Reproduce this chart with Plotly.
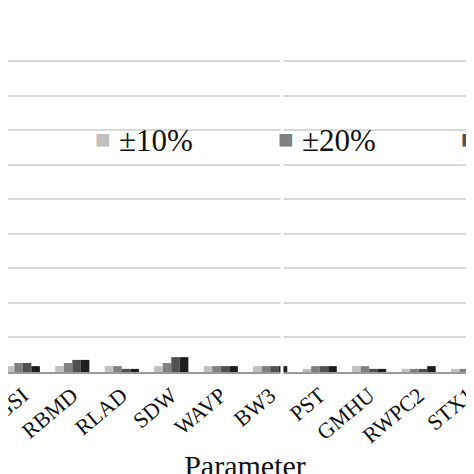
import plotly.graph_objects as go

params = ['GSI', 'RBMD', 'RLAD', 'SDW', 'WAVP', 'BW3', 'PST', 'GMHU', 'RWPC2', 'STX1']
s10 = [0.17, 0.17, 0.17, 0.17, 0.17, 0.17, 0.09, 0.17, 0.09, 0.09]
s20 = [0.26, 0.26, 0.17, 0.26, 0.17, 0.17, 0.17, 0.17, 0.09, 0.09]
s30 = [0.26, 0.35, 0.09, 0.43, 0.17, 0.17, 0.17, 0.09, 0.09, 0.09]
s40 = [0.17, 0.35, 0.09, 0.43, 0.17, 0.17, 0.17, 0.09, 0.17, 0.09]
names = ['±10%', '±20%', '±30%', '±40%']
colors = ['#c0c0c0', '#808080', '#505050', '#1e1e1e']

fig = go.Figure()
for name, vals, c in zip(names, [s10, s20, s30, s40], colors):
    fig.add_trace(go.Bar(x=params, y=vals, name=name, marker_color=c,
                         marker_line_width=0, showlegend=False))

# legend drawn as a row of annotations (only the first items fit in the crop)
annots = []
for i, (name, c) in enumerate(zip(names, colors)):
    x0 = 85 + i * 183
    annots.append(dict(xref='paper', yref='paper', x=x0 / 474, y=(364 - 131) / 342,
                       xanchor='left', yanchor='middle', showarrow=False,
                       text='■', font=dict(size=26, color=c)))
    annots.append(dict(xref='paper', yref='paper', x=(x0 + 24) / 474, y=(364 - 132) / 342,
                       xanchor='left', yanchor='middle', showarrow=False,
                       text=name, font=dict(size=31, color='#111')))

fig.update_layout(
    width=474, height=474,
    margin=dict(l=0, r=0, t=22, b=110),
    plot_bgcolor='white', paper_bgcolor='white',
    barmode='group', bargap=0.31, bargroupgap=0,
    font=dict(family='Liberation Serif', color='#111'),
    annotations=annots,
    xaxis=dict(range=[-0.3, 9.28], tickangle=-40, tickfont=dict(size=22),
               showline=True, linecolor='#999', linewidth=2, ticks='', automargin=False,
               title=dict(text='Parameter', font=dict(size=30), standoff=10)),
    yaxis=dict(range=[0, 9.9], dtick=1, showticklabels=False, gridcolor='#d9d9d9',
               gridwidth=2, zeroline=False),
    shapes=[dict(type='line', xref='paper', yref='paper', x0=0.578, x1=0.578, y0=-0.01, y1=1,
                 line=dict(color='white', width=3), layer='above')],
)
fig.write_html('out.html')
